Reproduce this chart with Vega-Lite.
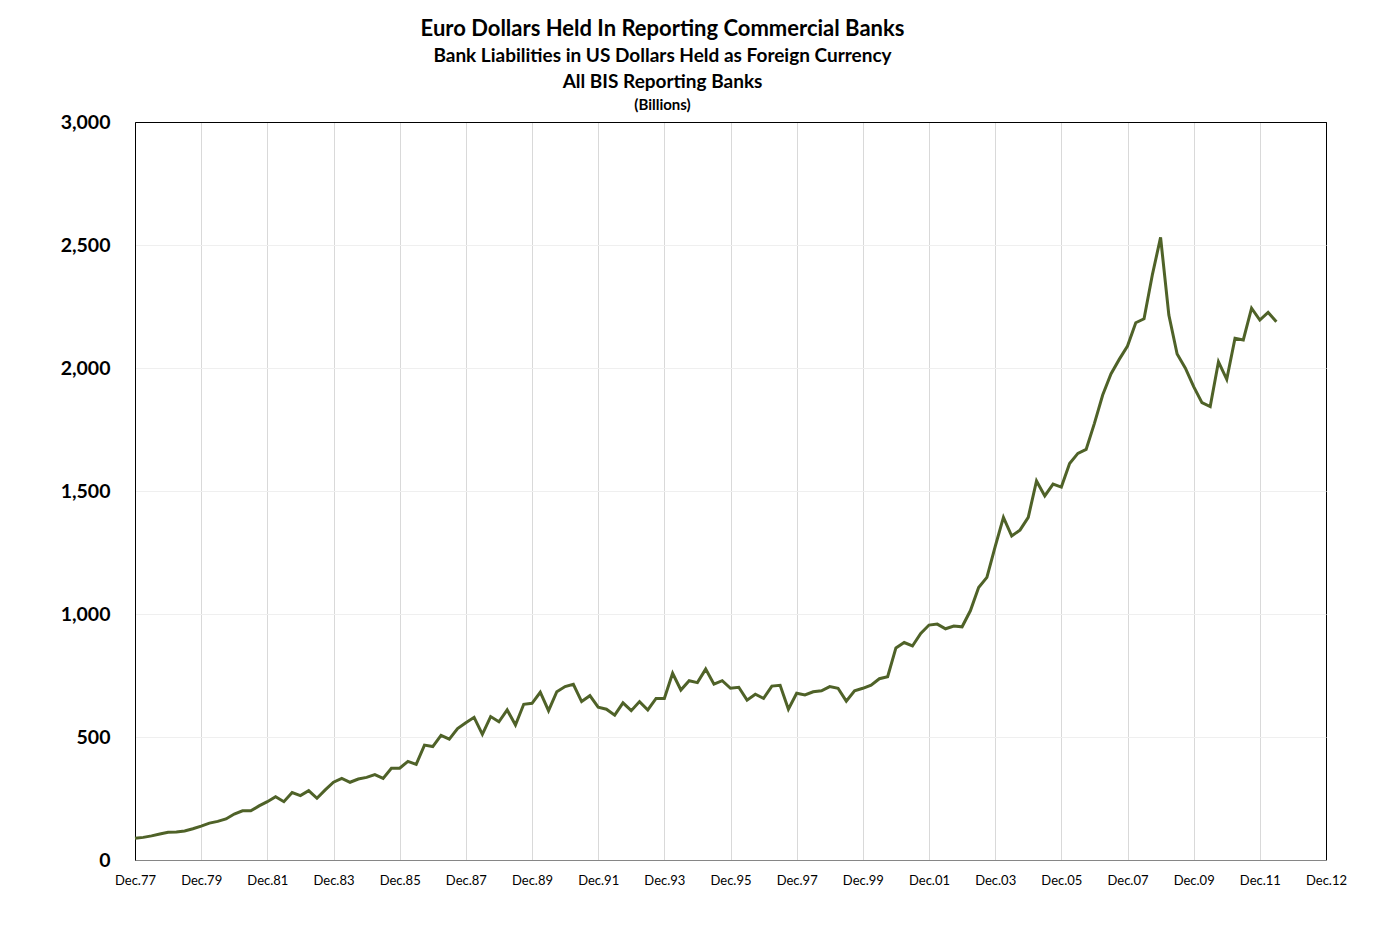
{
  "$schema": "https://vega.github.io/schema/vega-lite/v6.json",
  "autosize": "none",
  "width": 1191,
  "height": 738,
  "padding": {"left": 135, "top": 122, "right": 49, "bottom": 81},
  "background": "white",
  "config": {
    "font": "Lato",
    "view": {"stroke": "black", "strokeWidth": 1}
  },
  "title": {
    "text": "Euro Dollars Held In Reporting Commercial Banks",
    "subtitle": ["Bank Liabilities  in US Dollars  Held as Foreign Currency", "All BIS Reporting  Banks"],
    "anchor": "middle",
    "dx": -68,
    "offset": 4,
    "font": "Lato",
    "fontSize": 22,
    "fontWeight": "bold",
    "color": "black",
    "subtitleFont": "Lato",
    "subtitleFontSize": 19,
    "subtitleFontWeight": "bold",
    "subtitleColor": "black",
    "subtitlePadding": 6,
    "subtitleLineHeight": 26
  },
  "data": {
    "values": [
      {"q": 0, "v": 88}, {"q": 1, "v": 92}, {"q": 2, "v": 98}, {"q": 3, "v": 106},
      {"q": 4, "v": 113}, {"q": 5, "v": 114}, {"q": 6, "v": 118}, {"q": 7, "v": 127},
      {"q": 8, "v": 138}, {"q": 9, "v": 150}, {"q": 10, "v": 157}, {"q": 11, "v": 167},
      {"q": 12, "v": 187}, {"q": 13, "v": 200}, {"q": 14, "v": 200}, {"q": 15, "v": 220},
      {"q": 16, "v": 237}, {"q": 17, "v": 257}, {"q": 18, "v": 237}, {"q": 19, "v": 274},
      {"q": 20, "v": 262}, {"q": 21, "v": 282}, {"q": 22, "v": 251}, {"q": 23, "v": 285},
      {"q": 24, "v": 316}, {"q": 25, "v": 332}, {"q": 26, "v": 316}, {"q": 27, "v": 329},
      {"q": 28, "v": 336}, {"q": 29, "v": 347}, {"q": 30, "v": 332}, {"q": 31, "v": 373},
      {"q": 32, "v": 373}, {"q": 33, "v": 401}, {"q": 34, "v": 389}, {"q": 35, "v": 467},
      {"q": 36, "v": 461}, {"q": 37, "v": 507}, {"q": 38, "v": 491}, {"q": 39, "v": 534},
      {"q": 40, "v": 558}, {"q": 41, "v": 580}, {"q": 42, "v": 511}, {"q": 43, "v": 583},
      {"q": 44, "v": 562}, {"q": 45, "v": 610}, {"q": 46, "v": 549}, {"q": 47, "v": 633},
      {"q": 48, "v": 637}, {"q": 49, "v": 682}, {"q": 50, "v": 607}, {"q": 51, "v": 684},
      {"q": 52, "v": 705}, {"q": 53, "v": 714}, {"q": 54, "v": 644}, {"q": 55, "v": 668},
      {"q": 56, "v": 621}, {"q": 57, "v": 613}, {"q": 58, "v": 589}, {"q": 59, "v": 639},
      {"q": 60, "v": 607}, {"q": 61, "v": 644}, {"q": 62, "v": 610}, {"q": 63, "v": 657},
      {"q": 64, "v": 657}, {"q": 65, "v": 759}, {"q": 66, "v": 691}, {"q": 67, "v": 729},
      {"q": 68, "v": 721}, {"q": 69, "v": 776}, {"q": 70, "v": 715}, {"q": 71, "v": 729},
      {"q": 72, "v": 698}, {"q": 73, "v": 702}, {"q": 74, "v": 650}, {"q": 75, "v": 674},
      {"q": 76, "v": 657}, {"q": 77, "v": 707}, {"q": 78, "v": 710}, {"q": 79, "v": 613},
      {"q": 80, "v": 678}, {"q": 81, "v": 671}, {"q": 82, "v": 684}, {"q": 83, "v": 688},
      {"q": 84, "v": 705}, {"q": 85, "v": 698}, {"q": 86, "v": 646}, {"q": 87, "v": 688},
      {"q": 88, "v": 698}, {"q": 89, "v": 711}, {"q": 90, "v": 737}, {"q": 91, "v": 745},
      {"q": 92, "v": 862}, {"q": 93, "v": 884}, {"q": 94, "v": 870}, {"q": 95, "v": 921},
      {"q": 96, "v": 955}, {"q": 97, "v": 959}, {"q": 98, "v": 940}, {"q": 99, "v": 951},
      {"q": 100, "v": 948}, {"q": 101, "v": 1013}, {"q": 102, "v": 1108}, {"q": 103, "v": 1149},
      {"q": 104, "v": 1274}, {"q": 105, "v": 1393}, {"q": 106, "v": 1317}, {"q": 107, "v": 1341},
      {"q": 108, "v": 1393}, {"q": 109, "v": 1541}, {"q": 110, "v": 1480}, {"q": 111, "v": 1528},
      {"q": 112, "v": 1516}, {"q": 113, "v": 1612}, {"q": 114, "v": 1653}, {"q": 115, "v": 1669},
      {"q": 116, "v": 1775}, {"q": 117, "v": 1890}, {"q": 118, "v": 1976}, {"q": 119, "v": 2035},
      {"q": 120, "v": 2089}, {"q": 121, "v": 2184}, {"q": 122, "v": 2200}, {"q": 123, "v": 2378},
      {"q": 124, "v": 2531}, {"q": 125, "v": 2215}, {"q": 126, "v": 2057}, {"q": 127, "v": 1999},
      {"q": 128, "v": 1924}, {"q": 129, "v": 1859}, {"q": 130, "v": 1843}, {"q": 131, "v": 2025},
      {"q": 132, "v": 1954}, {"q": 133, "v": 2121}, {"q": 134, "v": 2114}, {"q": 135, "v": 2243},
      {"q": 136, "v": 2195}, {"q": 137, "v": 2226}, {"q": 138, "v": 2188}
    ]
  },
  "mark": {"type": "line", "color": "#4f6228", "strokeWidth": 3, "strokeJoin": "miter"},
  "encoding": {
    "x": {
      "field": "q",
      "type": "quantitative",
      "scale": {"domain": [0, 144], "nice": false, "zero": false},
      "axis": {
        "title": null,
        "values": [0, 8, 16, 24, 32, 40, 48, 56, 64, 72, 80, 88, 96, 104, 112, 120, 128, 136, 144],
        "labelExpr": "['Dec.77','Dec.79','Dec.81','Dec.83','Dec.85','Dec.87','Dec.89','Dec.91','Dec.93','Dec.95','Dec.97','Dec.99','Dec.01','Dec.03','Dec.05','Dec.07','Dec.09','Dec.11','Dec.12'][round(datum.value / 8)]",
        "labelFont": "Lato",
        "labelFontSize": 13,
        "labelColor": "black",
        "labelPadding": 14,
        "labelFlush": false,
        "labelOverlap": false,
        "ticks": false,
        "domainColor": "#868686",
        "domainWidth": 1,
        "grid": true,
        "gridColor": {"condition": {"test": "datum.value === 144", "value": "black"}, "value": "#d9d9d9"},
        "gridWidth": 1
      }
    },
    "y": {
      "field": "v",
      "type": "quantitative",
      "scale": {"domain": [0, 3000], "nice": false},
      "axis": {
        "title": "(Billions)",
        "titleAngle": 0,
        "titleX": 527,
        "titleY": -18,
        "titleAlign": "center",
        "titleBaseline": "middle",
        "titleFont": "Lato",
        "titleFontSize": 15,
        "titleFontWeight": "bold",
        "titleColor": "black",
        "values": [0, 500, 1000, 1500, 2000, 2500, 3000],
        "format": ",d",
        "labelFont": "Lato",
        "labelFontSize": 19.5,
        "labelFontWeight": "bold",
        "labelColor": "black",
        "labelPadding": 25,
        "ticks": false,
        "domainColor": "black",
        "domainWidth": 1,
        "gridColor": {"condition": {"test": "datum.value === 3000", "value": "black"}, "value": "#efefef"},
        "gridWidth": 1
      }
    }
  }
}
